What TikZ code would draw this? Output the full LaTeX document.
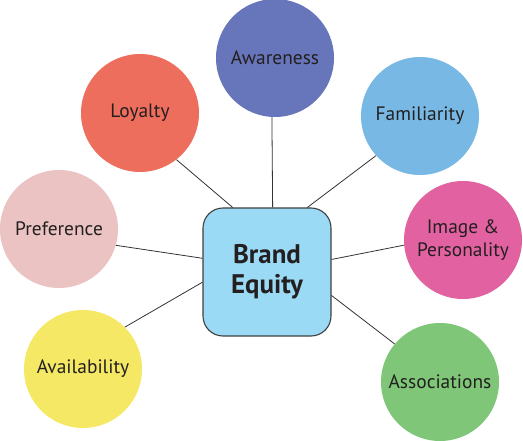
\documentclass[tikz,border=0pt]{standalone}
\usepackage{fontspec}
\setmainfont{PT Sans}

\definecolor{awarecol}{HTML}{6775BA}
\definecolor{loyalcol}{HTML}{EE6E5E}
\definecolor{familcol}{HTML}{78B8E4}
\definecolor{prefcol}{HTML}{EBC3C3}
\definecolor{imagecol}{HTML}{E262A1}
\definecolor{availcol}{HTML}{F5E865}
\definecolor{assoccol}{HTML}{7FC678}
\definecolor{brandcol}{HTML}{9BDAF4}
\definecolor{inkcol}{HTML}{231F20}

\tikzset{
    bubble/.style={circle, minimum size=118bp, inner sep=0pt, text=inkcol,
        align=center, font=\fontsize{19.5}{23}\selectfont},
    brandbox/.style={rectangle, minimum width=128bp, minimum height=128bp,
        rounded corners=20bp, fill=brandcol, draw=black!75, line width=1.1bp,
        text=inkcol, align=center, font=\fontsize{27}{30}\selectfont\bfseries},
    spoke/.style={draw=black!80, line width=0.8bp}
}

\begin{document}
\begin{tikzpicture}[x=1bp, y=-1bp]
    \useasboundingbox (0,0) rectangle (523,441);

    % centre box
    \node[brandbox] at (267,272) (brand) {Brand\\Equity};

    % the seven circles
    \node[bubble, fill=awarecol] at (275,58) (aware) {Awareness};
    \node[bubble, fill=loyalcol] at (140,113) (loyal) {Loyalty};
    \node[bubble, fill=familcol] at (420,116) (famil) {Familiarity};
    \node[bubble, fill=prefcol] at (59,229) (pref) {Preference};
    \node[bubble, fill=imagecol] at (463,240) (image) {Image \&\\Personality};
    \node[bubble, fill=availcol] at (83,369) (avail) {Availability};
    \node[bubble, fill=assoccol] at (440,382) (assoc) {Associations};

    % spokes
    \draw[spoke] (brand.85.5) -- (aware.-93);
    \draw[spoke] (brand.118.7) -- (loyal.-52);
    \draw[spoke] (brand.58) -- (famil.222);
    \draw[spoke] (brand.168.5) -- (pref.-16);
    \draw[spoke] (brand.11.5) -- (image.185);
    \draw[spoke] (brand.189.8) -- (avail.45);
    \draw[spoke] (brand.-20.6) -- (assoc.140);
\end{tikzpicture}
\end{document}
